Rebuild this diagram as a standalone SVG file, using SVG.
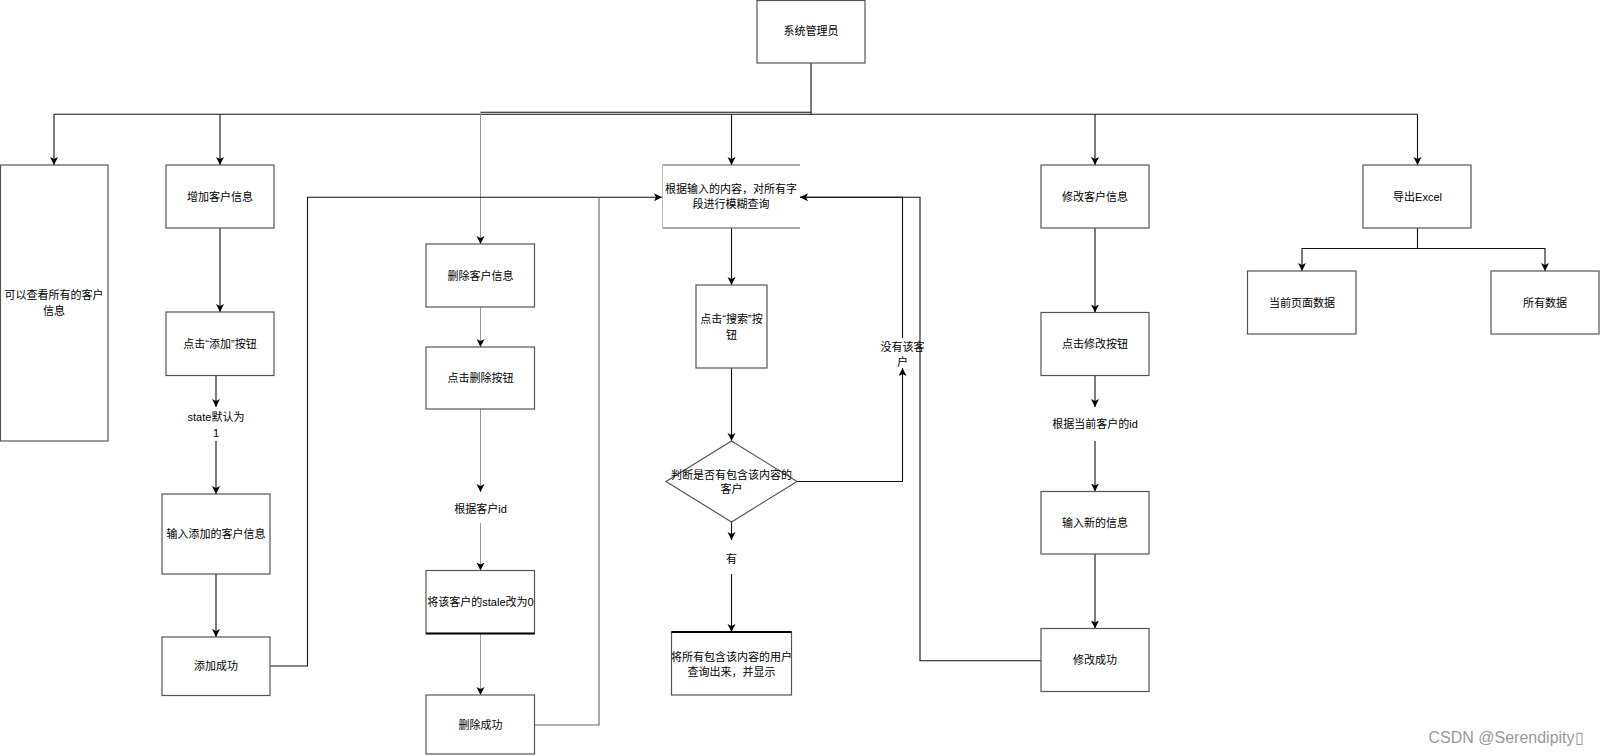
<svg xmlns="http://www.w3.org/2000/svg" width="1600" height="756" viewBox="0 0 1600 756">
<style>
.box{fill:#fff;stroke:#555;stroke-width:1.2}
.t{font-family:"Liberation Sans","Noto Sans CJK SC",sans-serif;font-size:11px;fill:#000;text-anchor:middle}
.c{fill:none;stroke:#111;stroke-width:1.1}
.g{fill:none;stroke:#999;stroke-width:1}
.m{fill:none;stroke:#666;stroke-width:1.1}
</style>
<defs>
<marker id="a" markerWidth="10" markerHeight="10" refX="8" refY="4" orient="auto" markerUnits="userSpaceOnUse">
<path d="M0,0 L8,4 L0,8 L2,4 z" fill="#000"/>
</marker>
</defs>
<rect width="1600" height="756" fill="#fff"/>
<g id="connectors">
<path class="c" d="M811,63 V114.3"/>
<path class="c" d="M54,114.3 H1417.5"/>
<path class="c" d="M54,114.3 V165" marker-end="url(#a)"/>
<path class="c" d="M220,114.3 V165" marker-end="url(#a)"/>
<path class="c" d="M731.5,114.3 V165" marker-end="url(#a)"/>
<path class="c" d="M1095,114.3 V165" marker-end="url(#a)"/>
<path class="c" d="M1417.5,114.3 V165" marker-end="url(#a)"/>
<path class="c" d="M811,112.3 H480.5"/>
<path class="g" d="M480.5,112.3 V244" marker-end="url(#a)"/>
<path class="c" d="M220,228 V312" marker-end="url(#a)"/>
<path class="c" d="M216,375.5 V407" marker-end="url(#a)"/>
<path class="c" d="M216,441 V494" marker-end="url(#a)"/>
<path class="c" d="M216,574 V637" marker-end="url(#a)"/>
<path class="c" d="M270,666 H307.5 V197.3 H662" marker-end="url(#a)"/>
<path class="g" d="M480.5,307 V347" marker-end="url(#a)"/>
<path class="g" d="M480.5,409 V492" marker-end="url(#a)"/>
<path class="g" d="M480.5,523 V570.5" marker-end="url(#a)"/>
<path class="g" d="M480.5,633.5 V695" marker-end="url(#a)"/>
<path class="m" d="M534.5,725 H599 V197.3"/>
<path class="c" d="M731.5,228 V285" marker-end="url(#a)"/>
<path class="c" d="M731.5,368 V441" marker-end="url(#a)"/>
<path class="c" d="M731.5,522 V540" marker-end="url(#a)"/>
<path class="c" d="M731.5,574 V632" marker-end="url(#a)"/>
<path class="c" d="M797,481.5 H902.5 V368" marker-end="url(#a)"/>
<path class="c" d="M902.5,338 V197.3 H800"/>
<path class="c" d="M1041,660.7 H920 V197.3 H800" marker-end="url(#a)"/>
<path class="c" d="M1095,228 V312.5" marker-end="url(#a)"/>
<path class="c" d="M1095,375.5 V407" marker-end="url(#a)"/>
<path class="c" d="M1095,441 V491.5" marker-end="url(#a)"/>
<path class="c" d="M1095,554 V628.5" marker-end="url(#a)"/>
<path class="c" d="M1417.5,228 V248.5 H1302 V271" marker-end="url(#a)"/>
<path class="c" d="M1417.5,248.5 H1545 V271" marker-end="url(#a)"/>
<text class="t" x="216" y="421">state默认为</text>
<text class="t" x="216" y="437">1</text>
<text class="t" x="480.5" y="513">根据客户id</text>
<text class="t" x="731.5" y="563">有</text>
<text class="t" x="902.5" y="351">没有该客</text>
<text class="t" x="902.5" y="366">户</text>
<text class="t" x="1095" y="428">根据当前客户的id</text>
</g>
<g id="admin"><rect class="box" x="757" y="0.5" width="108" height="62.5"/><text class="t" x="811" y="35">系统管理员</text></g>
<g id="viewAll"><rect class="box" x="0.5" y="165" width="107.5" height="276"/><text class="t" x="54" y="299">可以查看所有的客户</text><text class="t" x="54" y="315">信息</text></g>
<g id="addInfo"><rect class="box" x="166" y="165" width="108" height="63"/><text class="t" x="220" y="201">增加客户信息</text></g>
<g id="clickAdd"><rect class="box" x="166" y="312" width="108" height="63.5"/><text class="t" x="220" y="348">点击“添加”按钮</text></g>
<g id="inputAdd"><rect class="box" x="162" y="494" width="108" height="80"/><text class="t" x="216" y="538">输入添加的客户信息</text></g>
<g id="addOK"><rect class="box" x="162" y="637" width="108" height="58.5"/><text class="t" x="216" y="670">添加成功</text></g>
<g id="delInfo"><rect class="box" x="426" y="244" width="108.5" height="63"/><text class="t" x="480.5" y="280">删除客户信息</text></g>
<g id="clickDel"><rect class="box" x="426" y="347" width="108.5" height="62"/><text class="t" x="480.5" y="382">点击删除按钮</text></g>
<g id="setState"><rect class="box" x="426" y="570.5" width="108.5" height="63"/><line x1="426" y1="633.5" x2="534.5" y2="633.5" stroke="#000" stroke-width="2"/><text class="t" x="480.5" y="606">将该客户的stale改为0</text></g>
<g id="delOK"><rect class="box" x="426" y="695" width="108.5" height="59"/><text class="t" x="480.5" y="729">删除成功</text></g>
<g id="search"><rect x="662.5" y="165" width="137.5" height="63" fill="#fff"/><line x1="662.5" y1="165" x2="800" y2="165" stroke="#555" stroke-width="1.2"/><line x1="662.5" y1="228" x2="800" y2="228" stroke="#555" stroke-width="1.2"/><line x1="662.5" y1="165" x2="662.5" y2="228" stroke="#bbb" stroke-width="1"/><text class="t" x="731" y="193">根据输入的内容，对所有字</text><text class="t" x="731" y="208">段进行模糊查询</text></g>
<g id="clickSearch"><rect class="box" x="696" y="285" width="71" height="83"/><text class="t" x="731.5" y="323">点击“搜索”按</text><text class="t" x="731.5" y="339">钮</text></g>
<g id="judge"><polygon points="731.5,441 797,481.5 731.5,522 666,481.5" fill="#fff" stroke="#555" stroke-width="1.2"/><text class="t" x="731.5" y="479">判断是否有包含该内容的</text><text class="t" x="731.5" y="493">客户</text></g>
<g id="result"><rect class="box" x="671.5" y="632" width="120" height="63"/><line x1="671.5" y1="632" x2="791.5" y2="632" stroke="#000" stroke-width="2"/><text class="t" x="731.5" y="661">将所有包含该内容的用户</text><text class="t" x="731.5" y="676">查询出来，并显示</text></g>
<g id="modInfo"><rect class="box" x="1041" y="165" width="108" height="63"/><text class="t" x="1095" y="201">修改客户信息</text></g>
<g id="clickMod"><rect class="box" x="1041" y="312.5" width="108" height="63"/><text class="t" x="1095" y="348">点击修改按钮</text></g>
<g id="inputNew"><rect class="box" x="1041" y="491.5" width="108" height="62.5"/><text class="t" x="1095" y="527">输入新的信息</text></g>
<g id="modOK"><rect class="box" x="1041" y="628.5" width="108" height="63"/><text class="t" x="1095" y="664">修改成功</text></g>
<g id="excel"><rect class="box" x="1363" y="165" width="108" height="63"/><text class="t" x="1417.5" y="201">导出Excel</text></g>
<g id="curPage"><rect class="box" x="1247.5" y="271" width="108.5" height="63"/><text class="t" x="1302" y="307">当前页面数据</text></g>
<g id="allData"><rect class="box" x="1491" y="271" width="108" height="63"/><text class="t" x="1545" y="307">所有数据</text></g>
<text x="1506" y="743" font-family="Liberation Sans, sans-serif" font-size="16" fill="#999" text-anchor="middle">CSDN @Serendipity▯</text>
</svg>
